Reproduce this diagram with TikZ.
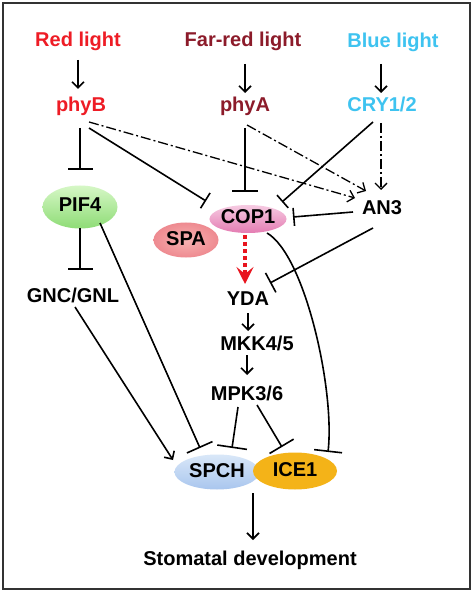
\documentclass[tikz,border=0pt]{standalone}
\usepackage{fontspec}
\setmainfont{Liberation Sans}
\usetikzlibrary{arrows.meta,shapes.geometric}
\definecolor{redL}{HTML}{EE1C25}
\definecolor{farL}{HTML}{8C1B2A}
\definecolor{blueL}{HTML}{3EC3F0}
\definecolor{pifT}{HTML}{D6F7C6}
\definecolor{pifB}{HTML}{8EDC76}
\definecolor{copT}{HTML}{F6CBE2}
\definecolor{copB}{HTML}{E47CB2}
\definecolor{spaI}{HTML}{F7B2B2}
\definecolor{spaO}{HTML}{EE8A90}
\definecolor{spchT}{HTML}{D9E7F8}
\definecolor{spchB}{HTML}{A9C6EE}
\definecolor{iceC}{HTML}{F4B318}
\definecolor{dotRed}{HTML}{E8141E}
\begin{document}
\begin{tikzpicture}[x=1pt,y=-1pt,
  lbl/.style={font=\fontsize{20}{24}\selectfont\bfseries, inner sep=0pt, text height=14pt, text depth=4pt},
  oval/.style={lbl, ellipse, draw=none},
  act/.style={line width=1.6pt, -{Straight Barb[length=6pt,width=12pt]}},
  inh/.style={line width=1.6pt, -{Bar[width=#1]}}, inh/.default=25pt,
  dd/.style={line width=1.3pt, dash pattern=on 10pt off 3pt on 2pt off 3pt, -{Straight Barb[length=6pt,width=12pt]}},
  frame/.style={line width=2pt, draw=black!80}
]
\useasboundingbox (0,0) rectangle (474,593);
\fill[white] (0,0) rectangle (474,593);
\draw[frame] (3,3) rectangle (470,589);

% light sources
\node[lbl, text=redL] (redl) at (78,42) {Red light};
\node[lbl, text=farL] (farl) at (243,42) {Far-red light};
\node[lbl, text=blueL] (bluel) at (393,43) {Blue light};
% photoreceptors
\node[lbl, text=redL] (phyB) at (81,107) {phyB};
\node[lbl, text=farL] (phyA) at (245,107) {phyA};
\node[lbl, text=blueL] (cry) at (382,107) {CRY1/2};
% ovals
\node[oval, minimum width=75pt, minimum height=43pt, top color=pifT, bottom color=pifB] (pif4) at (80,207) {PIF4};
\node[oval, minimum width=65pt, minimum height=35pt, inner color=spaI, outer color=spaO] (spa) at (186,240) {SPA};
\node[oval, minimum width=77pt, minimum height=28pt, top color=copT, bottom color=copB] (cop1) at (248,219) {COP1};
\node[oval, minimum width=85pt, minimum height=35pt, top color=spchT, bottom color=spchB] (spch) at (217,472) {SPCH};
\node[oval, minimum width=84pt, minimum height=37pt, fill=iceC] (ice1) at (295,471) {ICE1};
% other labels
\node[lbl] (an3) at (382,210) {AN3};
\node[lbl] (gnc) at (73,297) {GNC/GNL};
\node[lbl] (yda) at (248,300) {YDA};
\node[lbl] (mkk) at (257,345) {MKK4/5};
\node[lbl] (mpk) at (247,395) {MPK3/6};
\node[lbl] (stom) at (250,560) {Stomatal development};

% light -> receptors
\draw[act] ([shift={(0,18)}]redl.center) -- ([shift={(-3,-18)}]phyB.center);
\draw[act] ([shift={(2,22)}]farl.center) -- ([shift={(0,-14)}]phyA.center);
\draw[act] ([shift={(-12,21)}]bluel.center) -- ([shift={(-1,-14)}]cry.center);

% phyB
\draw[inh] ([shift={(-1,21)}]phyB.center) -- ([shift={(0,-37)}]pif4.center);
\draw[inh=18pt] ([shift={(8,21)}]phyB.center) -- ([shift={(-42,-18)}]cop1.center);
\draw[dd] ([shift={(8,15)}]phyB.center) -- ([shift={(-27,-12)}]an3.center);
% phyA
\draw[inh=26pt] ([shift={(0,21)}]phyA.center) -- ([shift={(-3,-27)}]cop1.center);
\draw[dd] ([shift={(2,18)}]phyA.center) -- ([shift={(-16,-19)}]an3.center);
% CRY1/2
\draw[inh=17pt] ([shift={(-9,15)}]cry.center) -- ([shift={(34,-17)}]cop1.center);
\draw[dd] ([shift={(-1,16)}]cry.center) -- ([shift={(-1,-20)}]an3.center);
% AN3
\draw[inh=18pt] ([shift={(-29,2)}]an3.center) -- ([shift={(45,-2)}]cop1.center);
\draw[inh=22pt] ([shift={(-9,18)}]an3.center) -- ([shift={(22,-17)}]yda.center);
% PIF4
\draw[inh] ([shift={(0,21)}]pif4.center) -- ([shift={(7,-27)}]gnc.center);
\draw[inh=28pt] ([shift={(20,16)}]pif4.center) -- ([shift={(-17,-24)}]spch.center);
% GNC/GNL
\draw[act] ([shift={(2,10)}]gnc.center) -- ([shift={(-44,-12)}]spch.center);
% COP1 -> YDA (red dotted)
\draw[line width=3.6pt, dotRed, dash pattern=on 4pt off 3pt, -{Stealth[length=17pt,width=17pt,inset=7pt]}]
  ([shift={(-3,16)}]cop1.center) -- ([shift={(-3,-16)}]yda.center);
% MAPK cascade
\draw[act] ([shift={(0,13)}]yda.center) -- ([shift={(-9,-14)}]mkk.center);
\draw[act] ([shift={(-10,10)}]mkk.center) -- ([shift={(0,-20)}]mpk.center);
\draw[inh=30pt] ([shift={(-9,12)}]mpk.center) -- ([shift={(15,-24)}]spch.center);
\draw[inh=28pt] ([shift={(10,10)}]mpk.center) -- ([shift={(-13,-24)}]ice1.center);
% COP1 -| ICE1 curve
\draw[inh=28pt] ([shift={(19,14)}]cop1.center) .. controls (305,255) and (335,390) .. ([shift={(33,-19)}]ice1.center);
% to output
\draw[act] ([shift={(36,21)}]spch.center) -- ([shift={(3,-20)}]stom.center);
\end{tikzpicture}
\end{document}
